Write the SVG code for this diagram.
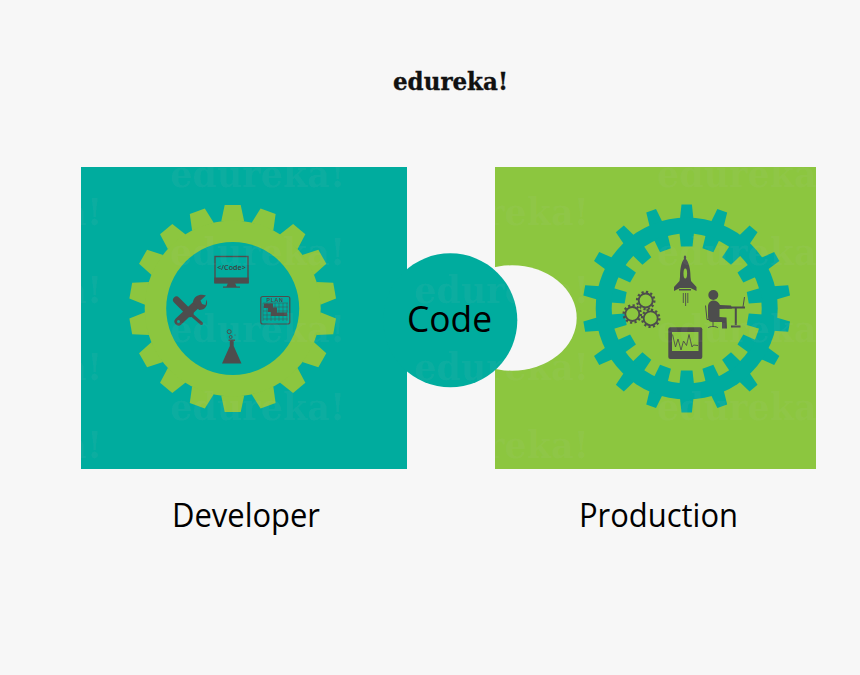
<svg xmlns="http://www.w3.org/2000/svg" xmlns:xlink="http://www.w3.org/1999/xlink" width="860" height="675" viewBox="0 0 860 675">
<style>
.teal{fill:#00ac9e}.green{fill:#8cc63f}.ic{fill:#4d4d4d}.ln{fill:none;stroke:#4d4d4d}
.wm{font-family:"DejaVu Serif",serif;font-weight:700;font-size:38px;fill:#c8c8c8;fill-opacity:.065}
.lbl{font-family:"Open Sans","Noto Sans",sans-serif;fill:#000}
</style>
<defs>
<polygon id="tA" points="-8,-103.5 8,-103.5 11.5,-87 -11.5,-87" class="green"/>
<polygon id="tB" points="-5.200,-104 5.200,-104 6.800,-89 -6.800,-89" class="teal"/>
<polygon id="tC" points="-5.800,-62 5.800,-62 7.300,-76 -7.300,-76" class="teal"/>
<g id="wmk"><text class="wm" textLength="175" lengthAdjust="spacingAndGlyphs">edureka!</text></g>
<clipPath id="panels"><rect x="81" y="167" width="326" height="302"/><rect x="495" y="167" width="321" height="302"/></clipPath>
<clipPath id="codeClip"><circle cx="450.300" cy="320.300" r="67"/></clipPath>
<g id="gearA">
<use xlink:href="#tA"/><use xlink:href="#tA" transform="rotate(20)"/><use xlink:href="#tA" transform="rotate(40)"/><use xlink:href="#tA" transform="rotate(60)"/><use xlink:href="#tA" transform="rotate(80)"/><use xlink:href="#tA" transform="rotate(100)"/><use xlink:href="#tA" transform="rotate(120)"/><use xlink:href="#tA" transform="rotate(140)"/><use xlink:href="#tA" transform="rotate(160)"/><use xlink:href="#tA" transform="rotate(180)"/><use xlink:href="#tA" transform="rotate(200)"/><use xlink:href="#tA" transform="rotate(220)"/><use xlink:href="#tA" transform="rotate(240)"/><use xlink:href="#tA" transform="rotate(260)"/><use xlink:href="#tA" transform="rotate(280)"/><use xlink:href="#tA" transform="rotate(300)"/><use xlink:href="#tA" transform="rotate(320)"/><use xlink:href="#tA" transform="rotate(340)"/>
</g>
<g id="gearB">
<use xlink:href="#tB"/><use xlink:href="#tB" transform="rotate(20)"/><use xlink:href="#tB" transform="rotate(40)"/><use xlink:href="#tB" transform="rotate(60)"/><use xlink:href="#tB" transform="rotate(80)"/><use xlink:href="#tB" transform="rotate(100)"/><use xlink:href="#tB" transform="rotate(120)"/><use xlink:href="#tB" transform="rotate(140)"/><use xlink:href="#tB" transform="rotate(160)"/><use xlink:href="#tB" transform="rotate(180)"/><use xlink:href="#tB" transform="rotate(200)"/><use xlink:href="#tB" transform="rotate(220)"/><use xlink:href="#tB" transform="rotate(240)"/><use xlink:href="#tB" transform="rotate(260)"/><use xlink:href="#tB" transform="rotate(280)"/><use xlink:href="#tB" transform="rotate(300)"/><use xlink:href="#tB" transform="rotate(320)"/><use xlink:href="#tB" transform="rotate(340)"/>
</g>
<g id="gearC">
<use xlink:href="#tC"/><use xlink:href="#tC" transform="rotate(20)"/><use xlink:href="#tC" transform="rotate(40)"/><use xlink:href="#tC" transform="rotate(60)"/><use xlink:href="#tC" transform="rotate(80)"/><use xlink:href="#tC" transform="rotate(100)"/><use xlink:href="#tC" transform="rotate(120)"/><use xlink:href="#tC" transform="rotate(140)"/><use xlink:href="#tC" transform="rotate(160)"/><use xlink:href="#tC" transform="rotate(180)"/><use xlink:href="#tC" transform="rotate(200)"/><use xlink:href="#tC" transform="rotate(220)"/><use xlink:href="#tC" transform="rotate(240)"/><use xlink:href="#tC" transform="rotate(260)"/><use xlink:href="#tC" transform="rotate(280)"/><use xlink:href="#tC" transform="rotate(300)"/><use xlink:href="#tC" transform="rotate(320)"/><use xlink:href="#tC" transform="rotate(340)"/>
</g>
<g id="cog"><circle r="7" fill="none" stroke="#4d4d4d" stroke-width="1.800"/><circle r="8.600" fill="none" stroke="#4d4d4d" stroke-width="2.400" stroke-dasharray="2.200 2.300"/></g>
</defs>
<rect width="860" height="675" fill="#f7f7f7"/>
<text id="title" x="393" y="90" font-family="'DejaVu Serif',serif" font-weight="700" font-size="25" fill="#111" stroke="#111" stroke-width=".35" textLength="115" lengthAdjust="spacingAndGlyphs">edureka!</text>

<g id="developer">
<rect class="teal" x="81" y="167" width="326" height="302"/>
<g transform="translate(232.700 308.500)"><use xlink:href="#gearA"/><circle class="green" r="88"/><circle class="teal" r="66.500"/></g>
<g id="dev-monitor">
<rect x="215" y="256.500" width="33" height="26" fill="none" stroke="#4d4d4d" stroke-width="1.400"/>
<rect class="ic" x="214.300" y="277.500" width="34.400" height="6"/>
<polygon class="ic" points="228,283 235,283 236.500,286.500 240,286.500 240,287.700 223,287.700 223,286.500 226.500,286.500"/>
<text x="231.500" y="269.500" text-anchor="middle" font-family="'Open Sans',sans-serif" font-weight="600" font-size="7.200" fill="#404040">&lt;/Code&gt;</text>
</g>
<g id="dev-plan">
<rect x="260.800" y="296.500" width="29" height="27.500" rx="2" fill="none" stroke="#4d4d4d" stroke-width="1.200"/>
<path class="ln" stroke-width=".5" d="M263,303V321M267,303V321M271,303V321M275,303V321M279,303V321M283,303V321M287,303V321M263,303H288M263,307H288M263,311H288M263,315H288M263,319H288"/>
<polygon class="ic" points="264,303.500 273,303.500 273,307.500 277,307.500 277,312.500 287,312.500 287,316 271,316 271,312 268,312 268,308 264,308"/>
<text x="275" y="302" text-anchor="middle" font-family="'Liberation Sans',sans-serif" font-weight="700" font-size="5.400" letter-spacing=".6" fill="#4d4d4d">PLAN</text>
</g>
<g id="dev-tools">
<path class="ln" stroke-width="7" stroke-linecap="round" d="M176.500,300L190,313.500"/>
<path class="ln" stroke-width="3" stroke-linecap="round" d="M190,313.500L201.500,323.500"/>
<path class="ln" stroke-width="8" stroke-linecap="round" d="M178.500,321.500L197,304"/>
<path class="ic" d="M193,302C194,296 200,293.500 206,295.500L200.500,300.500L202,304L205.500,305L206.500,299.500C208.500,305 205.500,310 199,310Z"/>
<circle fill="#00ac9e" cx="178.500" cy="321.500" r="1.500"/>
</g>
<g id="dev-flask">
<polygon class="ic" points="228.500,339.500 235,339.500 235,341 233.700,341 233.700,346 241.500,363.500 222,363.500 229.800,346 229.800,341 228.500,341"/>
<circle class="ln" stroke-width="1" cx="229.200" cy="331.700" r="2"/>
<circle class="ln" stroke-width="1" cx="230.700" cy="337" r="1.500"/>
<circle class="ic" cx="235" cy="335" r=".6"/>
</g>
</g>

<g id="production">
<rect class="green" x="495" y="167" width="321" height="302"/>
<g transform="translate(686.700 308.500)"><use xlink:href="#gearB"/><circle class="teal" r="91"/><circle class="green" r="75"/><use xlink:href="#gearC"/></g>
<g id="prod-rocket">
<path class="ic" d="M685,255.500C686,255.500 686.500,257 686,259C688.500,262 690.500,268 690.500,277L691,281L696.500,287L696.500,291L690.500,288L680,288L674,291L674,287L679.500,281L680,277C680,268 681.500,262 684,259C683.500,257 684,255.500 685,255.500Z"/>
<ellipse class="green" cx="685.300" cy="273.500" rx="1.800" ry="5"/>
<path class="ic" d="M679,289H691V290.500H679Z"/>
<path class="ln" stroke-width=".9" d="M683.300,293V303M685.600,293V306M687.800,293V303"/>
</g>
<g id="prod-person">
<circle class="ic" cx="713.300" cy="295" r="5"/>
<path class="ic" d="M708,307C708,302 711,300.500 714,300.500C717,300.500 719,303 720,305L731,305.500L732,308.500L719.500,309L719.500,317L726.500,317.500L727,328.500L722,328.500L722,322L712,322C709,322 708,319 708,316Z"/>
<path class="ln" stroke-width="1" d="M705.500,305.500L707,319.500L718,320M713,322V326M708,328C709,326 717,326 718,328"/>
<path class="ic" d="M726.700,306.500H745V308.500H726.700ZM734.800,308H736.800V325H734.800ZM731,325.500H740.500V327.500H731Z"/>
<path class="ln" stroke-width="1" d="M743,307L744.500,297"/>
</g>
<g id="prod-chart">
<rect class="ic" x="668.300" y="327.300" width="34" height="31.800" rx="2"/>
<rect class="green" x="672" y="332" width="26.500" height="19"/>
<polyline class="ln" stroke-width=".9" points="672.500,334.500 675.500,347 678,339 681,350 683.500,341 686.500,345.500 689,334.500 692,347 693.500,345 698,345.500"/>
</g>
<g id="prod-cogs">
<use xlink:href="#cog" x="632.300" y="314"/>
<use xlink:href="#cog" x="645.700" y="300.500"/>
<use xlink:href="#cog" x="650.700" y="318.300"/>
</g>
</g>

<g id="watermarks" clip-path="url(#panels)">
<use xlink:href="#wmk" x="170" y="187"/><use xlink:href="#wmk" x="170" y="265"/><use xlink:href="#wmk" x="170" y="342"/><use xlink:href="#wmk" x="170" y="420"/>
<use xlink:href="#wmk" x="657" y="187"/><use xlink:href="#wmk" x="657" y="265"/><use xlink:href="#wmk" x="657" y="342"/><use xlink:href="#wmk" x="657" y="420"/>
<use xlink:href="#wmk" x="-73" y="225"/><use xlink:href="#wmk" x="-73" y="303"/><use xlink:href="#wmk" x="-73" y="380"/><use xlink:href="#wmk" x="-73" y="458"/>
<use xlink:href="#wmk" x="414" y="225"/><use xlink:href="#wmk" x="414" y="303"/><use xlink:href="#wmk" x="414" y="380"/><use xlink:href="#wmk" x="414" y="458"/>
</g>

<g id="code">
<ellipse cx="512" cy="318" rx="64.700" ry="52.700" fill="#f7f7f7"/>
<circle class="teal" cx="450.300" cy="320.300" r="67"/>
<g clip-path="url(#codeClip)"><use xlink:href="#wmk" x="414" y="303"/><use xlink:href="#wmk" x="414" y="380"/></g>
<text class="lbl" x="407" y="332" font-size="37" textLength="85" lengthAdjust="spacingAndGlyphs">Code</text>
</g>
<text class="lbl" id="developer-label" x="172" y="527" font-size="33" textLength="148" lengthAdjust="spacingAndGlyphs">Developer</text>
<text class="lbl" id="production-label" x="579" y="527" font-size="33" textLength="159" lengthAdjust="spacingAndGlyphs">Production</text>
</svg>
